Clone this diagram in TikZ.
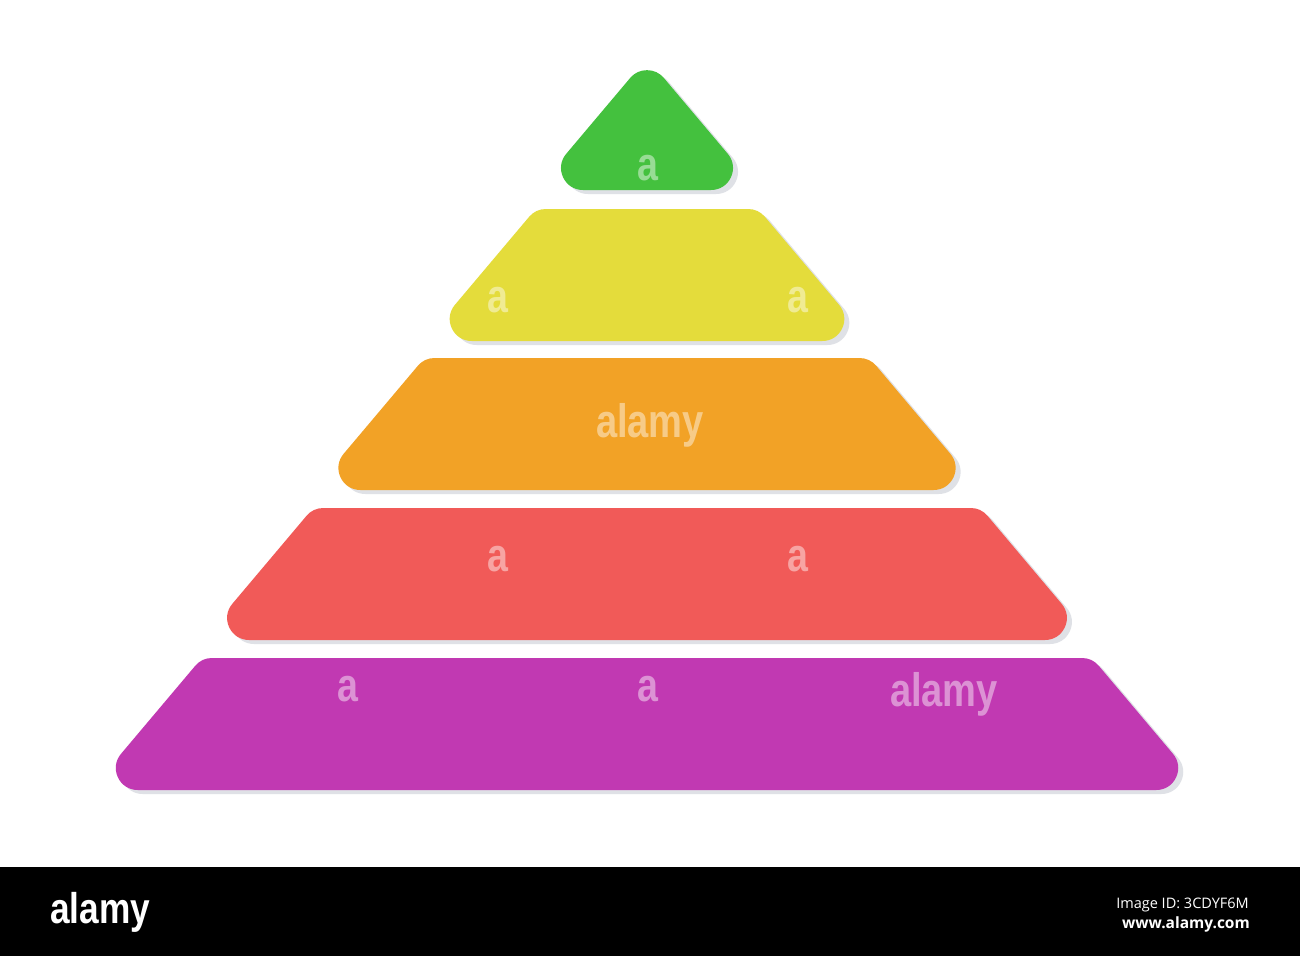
\documentclass[tikz,border=0pt]{standalone}
\usepackage{fontspec}
\setmainfont{Liberation Sans}
\newfontfamily\barfont{Open Sans}
\definecolor{cgreen}{RGB}{68,193,62}
\definecolor{cyellow}{RGB}{228,220,59}
\definecolor{corange}{RGB}{242,162,38}
\definecolor{cred}{RGB}{241,90,88}
\definecolor{cpurple}{RGB}{193,57,178}
\definecolor{cshadow}{RGB}{223,225,230}
\def\tierR{22}
\def\tierS{0.8432}
\def\tierK{1.3086}
\tikzset{
  tier/.style={line width=44pt,line join=round},
  shadowed/.style={tier,cshadow,shift={(5,4)}},
  wm/.style={text=white,text opacity=0.45,inner sep=0pt,anchor=base,font=\bfseries\fontsize{47}{47}\selectfont},
  bigwm/.style={wm},
}
\newcommand\pyrtier[3]{%
  \pgfmathsetmacro\tierB{#2-\tierR}%
  \pgfmathsetmacro\tierT{#2-132+\tierR}%
  \pgfmathsetmacro\tierXB{647-111.3*(#1+1)+\tierS*\tierR+\tierK*\tierR}%
  \pgfmathsetmacro\tierXT{647-111.3*#1-\tierS*\tierR+\tierK*\tierR}%
  \pgfmathsetmacro\tierXBR{1294-\tierXB}%
  \pgfmathsetmacro\tierXTR{1294-\tierXT}%
  \filldraw[shadowed] (\tierXB,\tierB) -- (\tierXT,\tierT) -- (\tierXTR,\tierT) -- (\tierXBR,\tierB) -- cycle;
  \filldraw[tier,#3] (\tierXB,\tierB) -- (\tierXT,\tierT) -- (\tierXTR,\tierT) -- (\tierXBR,\tierB) -- cycle;
}
\begin{document}
\begin{tikzpicture}[x=1pt,y=-1pt]
\useasboundingbox (0,0) rectangle (1300,956);
\fill[white] (0,0) rectangle (1300,956);
% green apex
\pgfmathsetmacro\gB{190-\tierR}
\pgfmathsetmacro\gA{190-(111.3-\tierK*\tierR)/\tierS}
\pgfmathsetmacro\gX{647-111.3+\tierS*\tierR+\tierK*\tierR}
\pgfmathsetmacro\gXR{1294-\gX}
\filldraw[shadowed] (\gX,\gB) -- (647,\gA) -- (\gXR,\gB) -- cycle;
\filldraw[tier,cgreen] (\gX,\gB) -- (647,\gA) -- (\gXR,\gB) -- cycle;
\pyrtier{1}{341}{cyellow}
\pyrtier{2}{490}{corange}
\pyrtier{3}{640}{cred}
\pyrtier{4}{790}{cpurple}
% watermarks
\node[wm] (wg) at (648,180) {\scalebox{0.8}[1]{a}};
\node[wm] (wy1) at (498,312) {\scalebox{0.8}[1]{a}};
\node[wm] (wy2) at (798,312) {\scalebox{0.8}[1]{a}};
\node[bigwm] (wo) at (650,437) {\scalebox{0.81}[1]{alamy}};
\node[wm] (wr1) at (498,571) {\scalebox{0.8}[1]{a}};
\node[wm] (wr2) at (798,571) {\scalebox{0.8}[1]{a}};
\node[wm] (wp1) at (348,701) {\scalebox{0.8}[1]{a}};
\node[wm] (wp2) at (648,701) {\scalebox{0.8}[1]{a}};
\node[bigwm] (wp3) at (944,706) {\scalebox{0.81}[1]{alamy}};
% bottom bar
\fill[black] (0,867) rectangle (1300,956);
\node[anchor=base,inner sep=0pt,text=white,font=\bfseries\fontsize{43}{43}\selectfont] (logo) at (100,923) {\scalebox{0.82}[1]{alamy}};
\node[anchor=base east,inner sep=0pt,text=white,font=\barfont\fontsize{14.5}{14.5}\selectfont] (imgid) at (1249,908) {Image ID: 3CDYF6M};
\node[anchor=base east,inner sep=0pt,text=white,font=\barfont\bfseries\fontsize{15.5}{15.5}\selectfont] (url) at (1250,928) {www.alamy.com};
\end{tikzpicture}
\end{document}
